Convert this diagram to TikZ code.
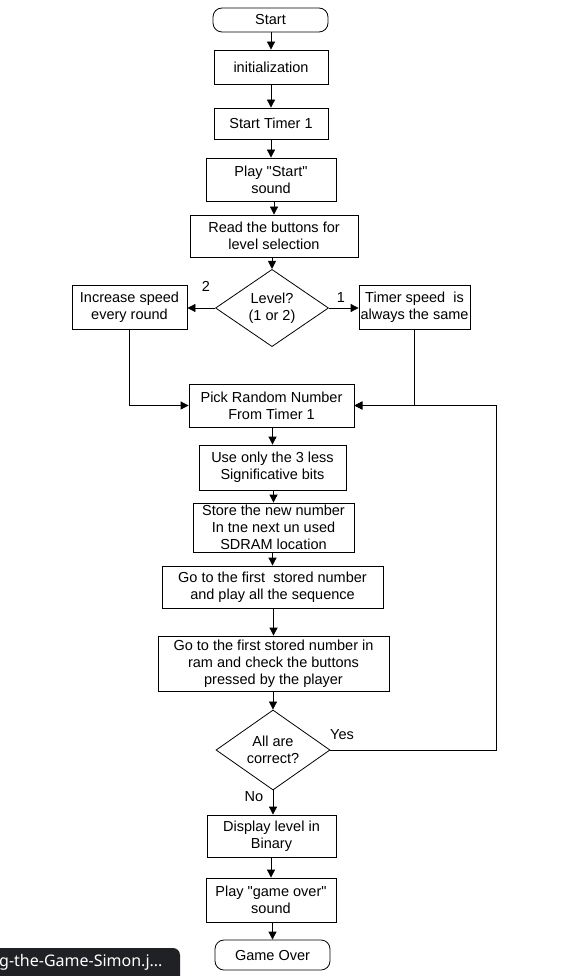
\documentclass[tikz,border=0pt]{standalone}
\usepackage{fontspec}
\setmainfont{Liberation Sans}[Ligatures=TeXOff]
\newfontfamily\tabfont{Noto Sans}
\usetikzlibrary{shapes.geometric,arrows.meta}
\definecolor{tabdark}{HTML}{202124}
\begin{document}
\begin{tikzpicture}[x=1pt,y=-1pt,
  every node/.style={font=\fontsize{14.5}{17}\selectfont},
  box/.style={draw,line width=0.8pt,align=center,inner sep=0pt},
  term/.style={box,rounded corners=9pt},
  dec/.style={draw,diamond,line width=0.8pt,align=center,inner sep=0pt},
  arr/.style={line width=0.8pt,-{Triangle[length=8pt,width=8pt]}},
  lbl/.style={inner sep=0pt}]
\useasboundingbox (0,0) rectangle (586,976);
\fill[white] (0,0) rectangle (586,976);

\node[term,minimum width=115pt,minimum height=24pt] (start) at (270.5,20) {Start};
\node[box,minimum width=114pt,minimum height=34pt] (init) at (271,67) {initialization};
\node[box,minimum width=114pt,minimum height=31pt] (timer) at (271,123.5) {Start Timer 1};
\node[box,minimum width=130pt,minimum height=43pt] (play) at (271,179.5) {Play "Start"\\sound};
\node[box,minimum width=168pt,minimum height=42pt] (read) at (274,236) {Read the buttons for\\level selection};
\node[dec,minimum width=113pt,minimum height=76pt] (lev) at (272,308) {Level?\\(1 or 2)};
\node[box,minimum width=115pt,minimum height=44pt] (inc) at (129.5,307) {Increase speed\\every round};
\node[box,minimum width=111pt,minimum height=44pt] (same) at (414.5,307) {Timer speed\ \ is\\always the same};

\node[box,minimum width=165pt,minimum height=43pt] (pick) at (271.5,405.5) {Pick Random Number\\From Timer 1};
\node[box,minimum width=147pt,minimum height=45pt] (use) at (272.5,467.5) {Use only the 3 less\\Significative bits};
\node[box,minimum width=161pt,minimum height=49pt] (store) at (273.5,527.5) {Store the new number\\In tne next un used\\SDRAM location};
\node[box,minimum width=221pt,minimum height=42pt] (go1) at (272.5,587) {Go to the first\ \ stored number\\and play all the sequence};
\node[box,minimum width=231pt,minimum height=55pt] (go2) at (273.5,663.5) {Go to the first stored number in\\ram and check the buttons\\pressed by the player};
\node[dec,minimum width=114pt,minimum height=75pt] (chk) at (273,750) {All are\\correct?};
\node[box,minimum width=129pt,minimum height=42pt] (disp) at (271.5,836) {Display level in\\Binary};
\node[box,minimum width=130pt,minimum height=44pt] (over) at (271,900) {Play "game over"\\sound};
\node[term,minimum width=115pt,minimum height=30pt] (fin) at (272.5,955) {Game Over};

\node[lbl] (l2) at (206,286) {2};
\node[lbl] (l1) at (341,298) {1};
\node[lbl] (lyes) at (342,735) {Yes};
\node[lbl] (lno) at (254,797) {No};

\draw[arr] (init.north |- start.south) -- (init.north);
\draw[arr] (timer.north |- init.south) -- (timer.north);
\draw[arr] (play.north |- timer.south) -- (play.north);
\draw[arr] (play.south -| read.north) -- (read.north);
\draw[arr] (lev.north |- read.south) -- (lev.north);
\draw[arr] (lev.west) -- (lev.west -| inc.east);
\draw[arr] (lev.east) -- (lev.east -| same.west);
\draw[arr] (inc.south) |- (pick.west);
\draw[arr] (same.south) |- (pick.east);
\draw[arr] (use.north |- pick.south) -- (use.north);
\draw[arr] (store.north |- use.south) -- (store.north);
\draw[arr] (go1.north |- store.south) -- (go1.north);
\draw[arr] (go2.north |- go1.south) -- (go2.north);
\draw[arr] (chk.north |- go2.south) -- (chk.north);
\coordinate (loopc) at (496,750);
\draw[arr] (chk.east) -- (loopc) |- (pick.east);
\draw[arr] (chk.south) -- (chk.south |- disp.north);
\draw[arr] (over.north |- disp.south) -- (over.north);
\draw[arr] (fin.north |- over.south) -- (fin.north);

\fill[tabdark,rounded corners=7pt] (-10,948) rectangle (180,990);
\node[anchor=west,inner sep=0pt,text=white,font=\tabfont\fontsize{16}{18}\selectfont] (tab) at (-1,962) {g-the-Game-Simon.j...};
\end{tikzpicture}
\end{document}
